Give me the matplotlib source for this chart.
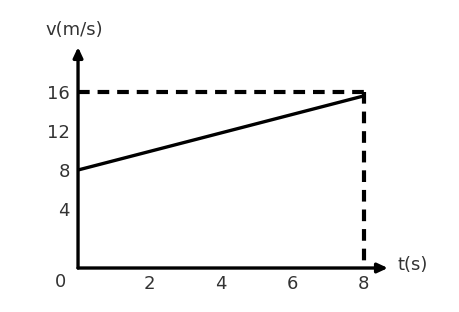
import matplotlib.pyplot as plt

t = [0, 8]
v = [8, 15.6]
v_max = 16
t_end = 8
xticks = [2, 4, 6, 8]
yticks = [4, 8, 12, 16]

fig = plt.figure(figsize=(4.59, 3.12), dpi=100)
ax = fig.add_axes([0.17, 0.141, 0.675, 0.708])
ax.set_xlim(0, 8.67)
ax.set_ylim(-2.05, 20.6)
for s in ax.spines.values():
    s.set_visible(False)

# axes with arrows
ax.annotate('', xy=(1, 0), xycoords='axes fraction', xytext=(0, 0),
            arrowprops=dict(arrowstyle='-|>,head_length=0.6,head_width=0.28', lw=2.4, color='black',
                            shrinkA=0, shrinkB=0))
ax.annotate('', xy=(0, 1), xycoords='axes fraction', xytext=(0, 0),
            arrowprops=dict(arrowstyle='-|>,head_length=0.6,head_width=0.28', lw=2.4, color='black',
                            shrinkA=0, shrinkB=0))

# velocity line
ax.plot(t, v, color='black', lw=2.4, solid_capstyle='butt')

# dashed guides
y0 = ax.get_ylim()[0]
ax.plot([0, t_end], [v_max, v_max], color='black', lw=3, dashes=(2.8, 1.9))
ax.plot([t_end, t_end], [v_max, y0], color='black', lw=3, dashes=(2.8, 1.9))

ax.set_xticks(xticks)
ax.set_yticks(yticks)
ax.tick_params(length=0, labelsize=13, labelcolor='#333333', pad=5)
ax.tick_params(axis='y', pad=6)

ax.text(-0.48, y0 - 0.5, '0', ha='center', va='top', fontsize=13, color='#333333')
ax.text(-0.1, 21.4, 'v(m/s)', ha='center', va='bottom', fontsize=13, color='#333333')
ax.text(8.95, y0 + 0.3, 't(s)', ha='left', va='center', fontsize=13, color='#333333')

fig.savefig('out.png', dpi=100)
